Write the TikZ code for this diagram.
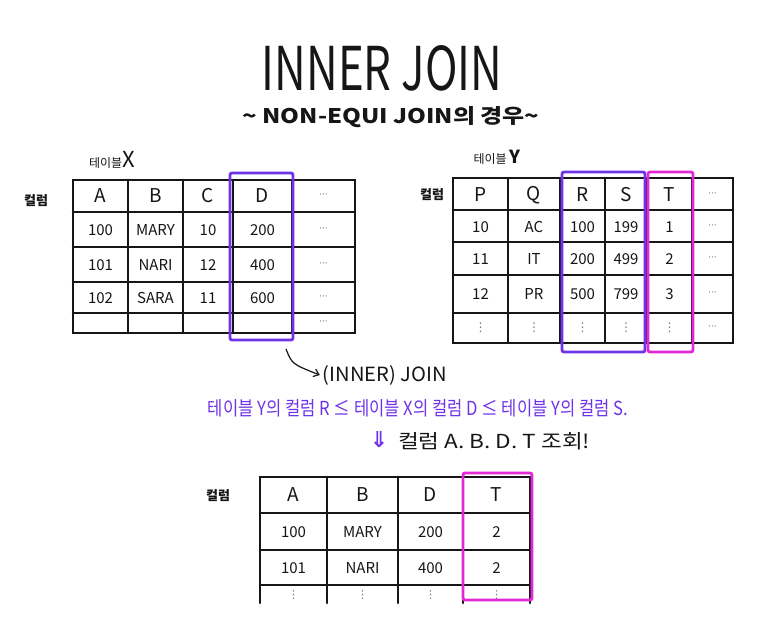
\documentclass[tikz,border=0pt]{standalone}
\usepackage{fontspec}
\usepackage{graphicx}
\setmainfont{Noto Sans CJK KR}
\newfontfamily\symfont{DejaVu Sans}
\usetikzlibrary{arrows.meta}
\definecolor{vio}{RGB}{112,52,232}
\definecolor{mag}{RGB}{228,40,212}
\definecolor{ink}{RGB}{22,22,22}
\begin{document}
\begin{tikzpicture}[x=1pt,y=-1pt,
  grid/.style={line width=2.6pt,draw=ink,line cap=round},
  vbox/.style={line width=2.8pt,draw=vio,rounded corners=2pt},
  mbox/.style={line width=2.8pt,draw=mag,rounded corners=2pt},
  hd/.style={font=\fontsize{19}{19}\selectfont,text=ink,inner sep=0pt},
  dc/.style={font=\fontsize{15}{15}\selectfont,text=ink,inner sep=0pt},
  dt/.style={font=\symfont\fontsize{9}{9}\selectfont,text=black!55,inner sep=0pt},
  lbl/.style={text=ink,inner sep=1pt},
  arr/.style={line width=1.2pt,draw=ink,-{Straight Barb[length=5pt,width=8pt]}}]
\useasboundingbox[fill=white] (0,0) rectangle (774,633);

% title
\node[text=ink,inner sep=0pt] (title) at (382,68) {\resizebox{240pt}{45pt}{INNER JOIN}};
\node[text=ink,inner sep=0pt] (sub) at (391,117) {\resizebox{297pt}{17pt}{\bfseries\textasciitilde\ NON-EQUI JOIN의 경우\textasciitilde}};

% ---------- table X ----------
\node[lbl] (xlab) at (112,160) {{\fontsize{12}{12}\selectfont 테이블}{\fontsize{22}{22}\selectfont X}};
\node[lbl,font=\fontsize{13}{13}\selectfont\bfseries] (xcol) at (36,201) {컬럼};
\draw[grid] (73,180) rectangle (355,333);
\foreach \x in {128,183,233,292} \draw[grid] (\x,180) -- (\x,333);
\foreach \y in {212,247,282,313} \draw[grid] (73,\y) -- (355,\y);
\foreach \x/\t [count=\i] in {100.5/A,155.5/B,208/C,262.5/D} \node[hd] (x0\i) at (\x,196) {\t};
\node[dt] (x05) at (323.5,196) {···};
\foreach \x/\t [count=\i] in {100.5/100,155.5/MARY,208/10,262.5/200} \node[dc] (x1\i) at (\x,230) {\t};
\foreach \x/\t [count=\i] in {100.5/101,155.5/NARI,208/12,262.5/400} \node[dc] (x2\i) at (\x,265) {\t};
\foreach \x/\t [count=\i] in {100.5/102,155.5/SARA,208/11,262.5/600} \node[dc] (x3\i) at (\x,298) {\t};
\foreach \y [count=\i] in {230,265,298,323} \node[dt] (xd\i) at (323.5,\y) {···};
\draw[vbox] (230,173) rectangle (293,340);

% ---------- table Y ----------
\node[lbl] (ylab) at (497,157) {{\fontsize{12}{12}\selectfont 테이블 }{\fontsize{18}{18}\selectfont\bfseries Y}};
\node[lbl,font=\fontsize{13}{13}\selectfont\bfseries] (ycol) at (432,195) {컬럼};
\draw[grid] (453,178) rectangle (733,343);
\foreach \x in {508,560,605,647,692} \draw[grid] (\x,178) -- (\x,343);
\foreach \y in {210,242,275,313} \draw[grid] (453,\y) -- (733,\y);
\foreach \x/\t [count=\i] in {480.5/P,534/Q,582.5/R,626/S,669.5/T} \node[hd] (y0\i) at (\x,195) {\t};
\foreach \x/\t [count=\i] in {480.5/10,534/AC,582.5/100,626/199,669.5/1} \node[dc] (y1\i) at (\x,227) {\t};
\foreach \x/\t [count=\i] in {480.5/11,534/IT,582.5/200,626/499,669.5/2} \node[dc] (y2\i) at (\x,259) {\t};
\foreach \x/\t [count=\i] in {480.5/12,534/PR,582.5/500,626/799,669.5/3} \node[dc] (y3\i) at (\x,294) {\t};
\foreach \x [count=\i] in {480.5,534,582.5,626,669.5} \node[dt,font=\symfont\fontsize{12}{12}\selectfont] (y4\i) at (\x,328) {⋮};
\foreach \y [count=\i] in {195,227,259,294,328} \node[dt] (yd\i) at (712.5,\y) {···};
\draw[vbox] (562,172) rectangle (645,352);
\draw[mbox] (648,172) rectangle (693,352);

% ---------- join text ----------
\node[text=ink,inner sep=3pt] (join) at (385,375) {\resizebox{124pt}{16pt}{(INNER) JOIN}};
\coordinate (ast) at (286,349);
\draw[arr] (ast) .. controls (292,364) .. (join.west);
\node[text=vio,inner sep=0pt] (cond) at (418,408) {\resizebox{420pt}{16pt}{테이블 Y의 컬럼 R ≤ 테이블 X의 컬럼 D ≤ 테이블 Y의 컬럼 S.}};
\node[text=vio,inner sep=0pt,font=\symfont\fontsize{22}{22}\selectfont\bfseries] (darr) at (379,440) {⇓};
\node[text=ink,inner sep=0pt,anchor=west] (sel) at (398,441) {\resizebox{192pt}{16pt}{컬럼 A. B. D. T 조회!}};

% ---------- result table ----------
\node[lbl,font=\fontsize{13}{13}\selectfont\bfseries] (rcol) at (218,496) {컬럼};
\draw[grid] (260,603) -- (260,477) -- (530,477) -- (530,603);
\foreach \x in {327,398,463} \draw[grid] (\x,477) -- (\x,603);
\foreach \y in {513,550,585} \draw[grid] (260,\y) -- (530,\y);
\foreach \x/\t [count=\i] in {293.5/A,362.5/B,430.5/D,496.5/T} \node[hd] (r0\i) at (\x,495) {\t};
\foreach \x/\t [count=\i] in {293.5/100,362.5/MARY,430.5/200,496.5/2} \node[dc] (r1\i) at (\x,532) {\t};
\foreach \x/\t [count=\i] in {293.5/101,362.5/NARI,430.5/400,496.5/2} \node[dc] (r2\i) at (\x,568) {\t};
\foreach \x [count=\i] in {293.5,362.5,430.5,496.5} \node[dt,font=\symfont\fontsize{11}{11}\selectfont] (r3\i) at (\x,595) {⋮};
\draw[mbox] (463,473) rectangle (532,600);
\end{tikzpicture}
\end{document}
